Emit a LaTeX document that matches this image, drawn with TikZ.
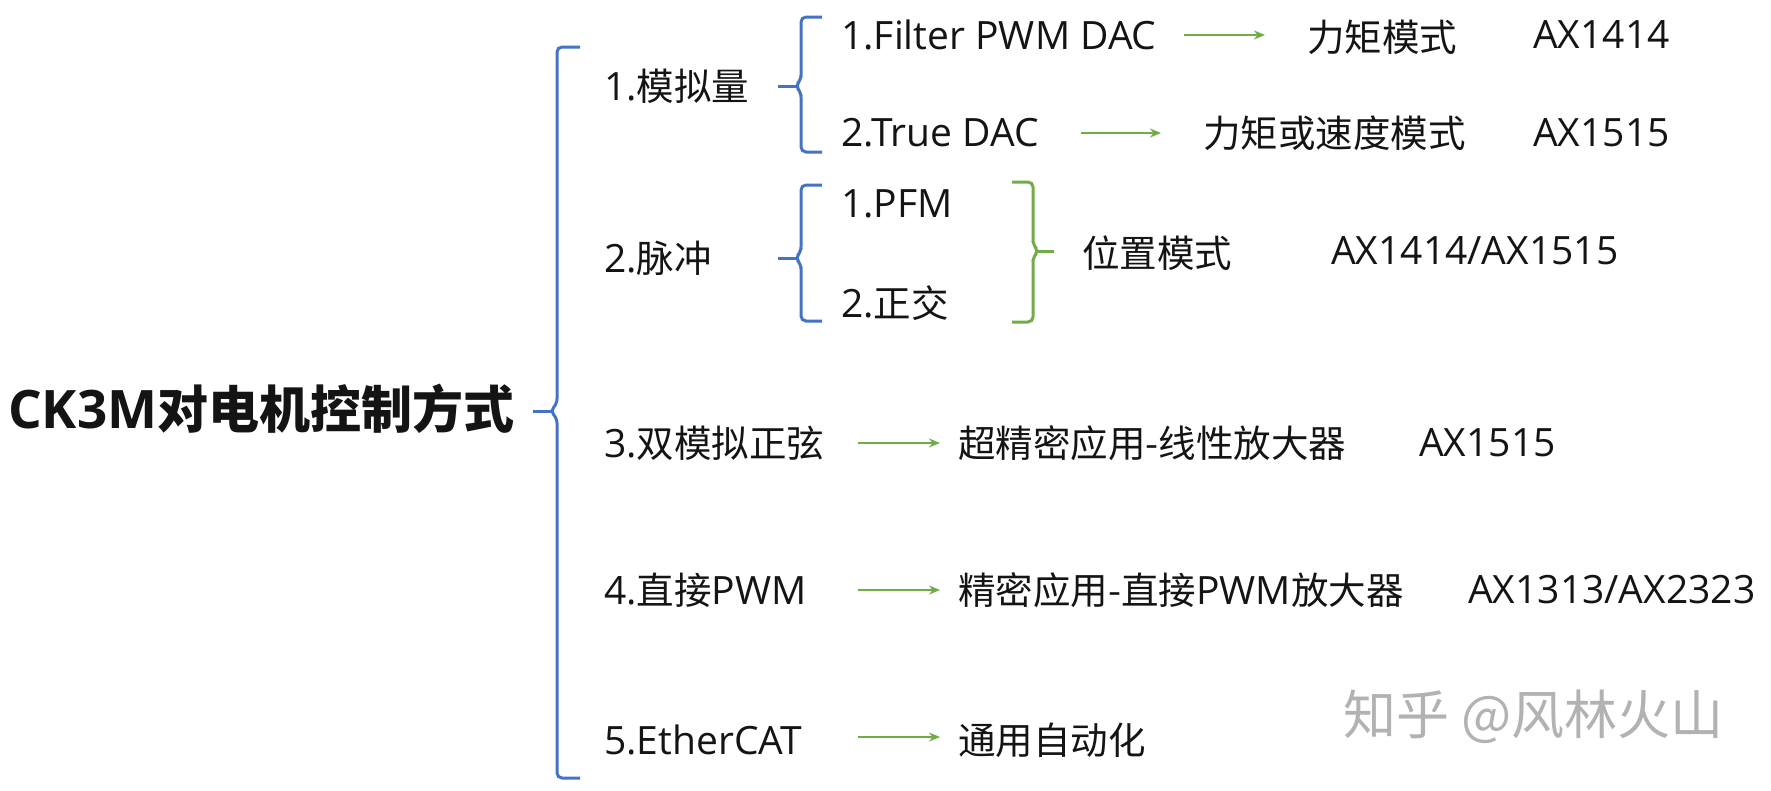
\documentclass[tikz,border=0pt]{standalone}
\usepackage{fontspec}
\setmainfont{Open Sans}[Scale=1.04]
\newfontfamily\cjk{Noto Sans CJK SC}
\newcommand\zh[1]{{\cjk #1}}
\usetikzlibrary{arrows.meta}
\definecolor{brblue}{RGB}{68,114,196}
\definecolor{argreen}{RGB}{112,173,71}
\definecolor{txt}{RGB}{20,20,20}
\begin{document}
\begin{tikzpicture}[x=1pt,y=-1pt,
  lbl/.style={anchor=west,inner sep=0pt,text=txt,font=\fontsize{37.5}{44}\selectfont},
  ttl/.style={anchor=west,inner sep=0pt,text=txt,font=\fontsize{51}{58}\selectfont\bfseries},
  bluebr/.style={draw=brblue,line width=3pt,rounded corners=5pt},
  greenbr/.style={draw=argreen,line width=3pt,rounded corners=5pt},
  garrow/.style={draw=argreen,line width=2.5pt,-{Stealth[length=11pt,width=9pt]}},
  wm/.style={anchor=west,inner sep=0pt,font=\fontsize{53}{60}\selectfont}]
\useasboundingbox[fill=white] (0,0) rectangle (1771,790);

% title
\node[ttl] (title) at (8,409) {CK3M\zh{对电机控制方式}};

% main brace
\draw[bluebr] (580,47) -- (557,47) -- (557,404) -- (550,411) -- (557,418) -- (557,778) -- (580,778);
\draw[brblue,line width=3pt] (533,411) -- (552,411);

% level 1
\node[lbl] (a1) at (604,86) {1.\zh{模拟量}};
\node[lbl] (a2) at (604,258) {2.\zh{脉冲}};
\node[lbl] (a3) at (604,443) {3.\zh{双模拟正弦}};
\node[lbl] (a4) at (604,590) {4.\zh{直接}PWM};
\node[lbl] (a5) at (604,740) {5.EtherCAT};

% brace 1
\draw[bluebr] (822,17) -- (801,17) -- (801,80) -- (795,86) -- (801,92) -- (801,152) -- (822,152);
\draw[brblue,line width=3pt] (778,86) -- (797,86);
% brace 2
\draw[bluebr] (822,185) -- (801,185) -- (801,252) -- (795,258) -- (801,264) -- (801,321) -- (822,321);
\draw[brblue,line width=3pt] (778,258) -- (797,258);

% sub items of 1
\node[lbl] (b1) at (841,35) {1.Filter PWM DAC};
\node[lbl] (c1) at (1307,37) {\zh{力矩模式}};
\node[lbl] (d1) at (1533,35) {AX1414};
\node[lbl] (b2) at (841,133) {2.True DAC};
\node[lbl] (c2) at (1203,133) {\zh{力矩或速度模式}};
\node[lbl] (d2) at (1533,133) {AX1515};

\coordinate (s1) at (1184,35); \coordinate (e1) at (1265,35);
\coordinate (s2) at (1081,133); \coordinate (e2) at (1161,133);
\draw[garrow] (s1) -- (e1);
\draw[garrow] (s2) -- (e2);

% sub items of 2
\node[lbl] (b3) at (841,204) {1.PFM};
\node[lbl] (b4) at (841,303) {2.\zh{正交}};
\draw[greenbr] (1012,182) -- (1033,182) -- (1033,245) -- (1039,251) -- (1033,257) -- (1033,322) -- (1012,322);
\draw[argreen,line width=3pt] (1037,251) -- (1054,251);
\node[lbl] (c3) at (1082,253) {\zh{位置模式}};
\node[lbl] (d3) at (1331,251) {AX1414/AX1515};

% row 3
\coordinate (s3) at (858,443); \coordinate (e3) at (940,443);
\draw[garrow] (s3) -- (e3);
\node[lbl] (c4) at (958,443) {\zh{超精密应用-线性放大器}};
\node[lbl] (d4) at (1419,443) {AX1515};

% row 4
\coordinate (s4) at (858,590); \coordinate (e4) at (940,590);
\draw[garrow] (s4) -- (e4);
\node[lbl] (c5) at (958,590) {\zh{精密应用-直接}PWM\zh{放大器}};
\node[lbl] (d5) at (1468,590) {AX1313/AX2323};

% row 5
\coordinate (s5) at (858,737); \coordinate (e5) at (940,737);
\draw[garrow] (s5) -- (e5);
\node[lbl] (c6) at (958,740) {\zh{通用自动化}};

% watermark
\node[wm,text=black!30] (wm) at (1343,717) {\zh{知乎 @风林火山}};
\end{tikzpicture}
\end{document}
